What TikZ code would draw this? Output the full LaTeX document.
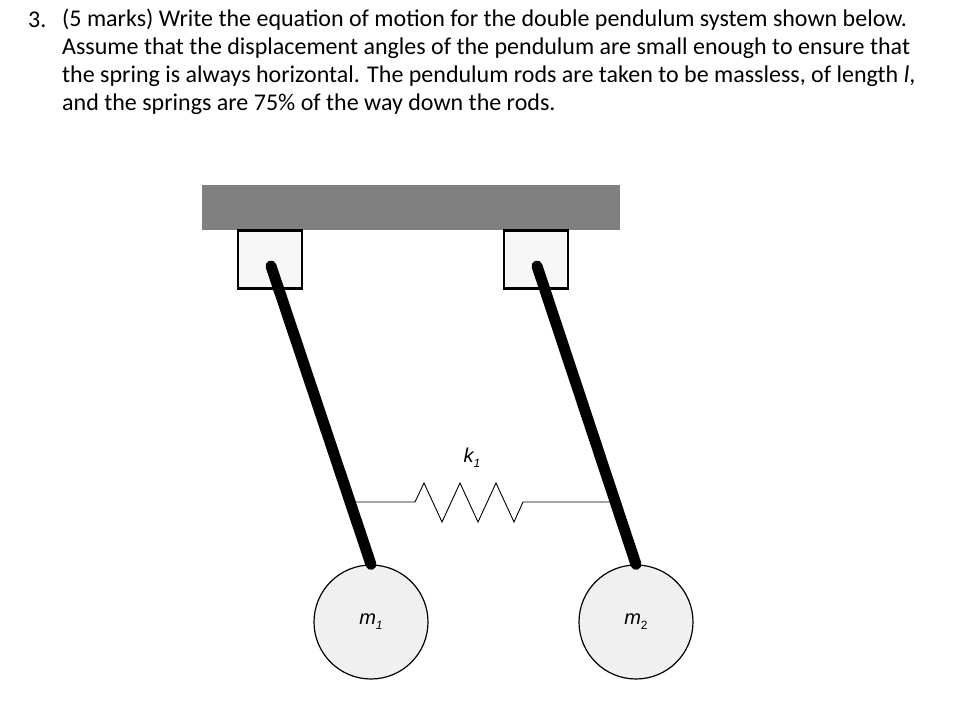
\documentclass[tikz,border=0pt]{standalone}
\usepackage{fontspec}
\usetikzlibrary{calc}
\setmainfont{Carlito}
\newfontfamily\lab{Liberation Sans}
\begin{document}
\begin{tikzpicture}[x=1pt,y=-1pt,
  txt/.style={anchor=west,inner sep=0pt,font=\fontsize{24}{28}\selectfont},
  rod/.style={line width=11pt,line cap=round},
  mass/.style={circle,draw,line width=1.2pt,fill=gray!12,minimum size=114pt,inner sep=0pt},
  pivot/.style={draw,line width=2.5pt,fill=gray!6,minimum width=64pt,minimum height=58pt,inner sep=0pt},
  lbl/.style={font=\lab\itshape\fontsize{20}{22}\selectfont}]
\useasboundingbox (0,0) rectangle (970,710);
\node[txt] (n3) at (28,20) {3.};
\node[txt] (l1) at (62,20) {(5 marks) Write the equation of motion for the double pendulum system shown below.};
\node[txt] (l2) at (62,48) {Assume that the displacement angles of the pendulum are small enough to ensure that};
\node[txt] (l3) at (62,76) {the spring is always horizontal. The pendulum rods are taken to be massless, of length \textit{l},};
\node[txt] (l4) at (62,104) {and the springs are 75\% of the way down the rods.};
\fill[gray] (202,185) rectangle (620,230);
\node[pivot] (p1) at (270,259.5) {};
\node[pivot] (p2) at (536,259.5) {};
\node[mass] (m1) at (371,622) {};
\node[mass] (m2) at (636,622) {};
\coordinate (t1) at (271,266);
\coordinate (t2) at (537,266);
\draw[rod] (t1) -- (m1.north);
\draw[rod] (t2) -- (m2.north);
\node[lbl] at (371,622) {m\raisebox{-5pt}{\fontsize{12}{12}\selectfont 1}};
\node[lbl] at (636,622) {m\raisebox{-5pt}{\fontsize{12}{12}\selectfont\upshape 2}};
\node[lbl] (k) at (472,458) {k\raisebox{-5pt}{\fontsize{12}{12}\selectfont 1}};
\coordinate (s1) at ($(t1)!0.79!(m1.north)$);
\coordinate (s2) at ($(t2)!0.79!(m2.north)$);
\draw[line width=0.9pt] (s1 |- 0,502) -- (415,502) -- (424,483) -- (442,522) -- (460,483) -- (478,522) -- (496,483) -- (514,522) -- (523,502) -- (s2 |- 0,502);
\end{tikzpicture}
\end{document}
